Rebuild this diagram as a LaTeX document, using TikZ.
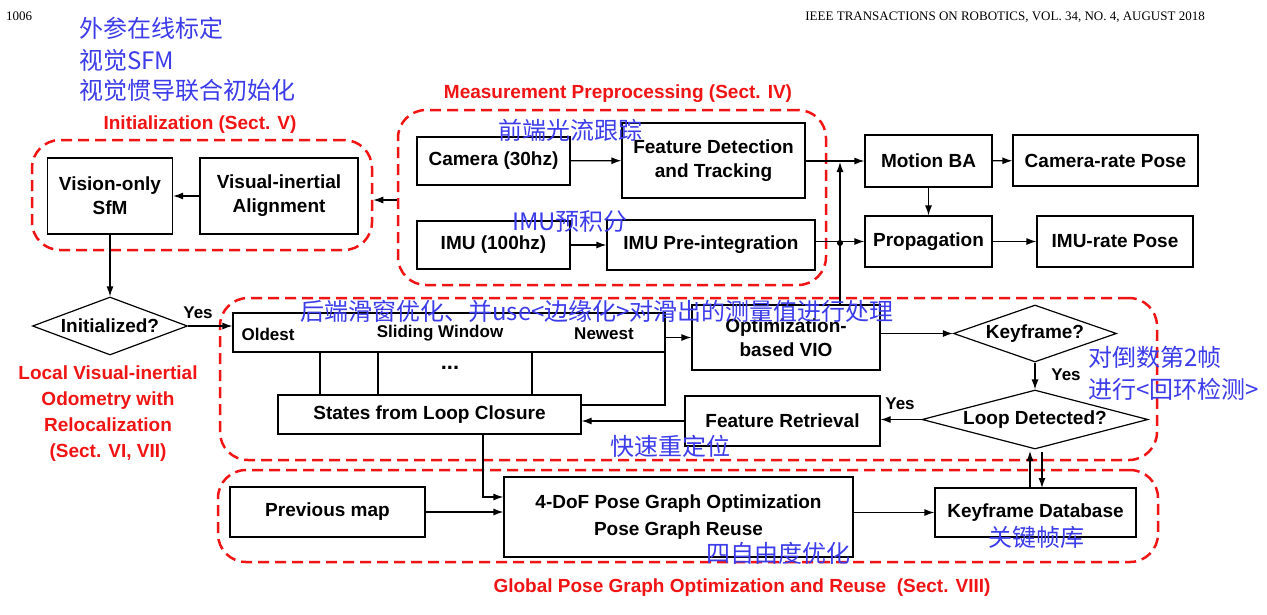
\documentclass[tikz,border=0pt]{standalone}
\usepackage{fontspec}
\setmainfont{Liberation Sans}
\newfontfamily\cjk{Noto Sans CJK SC}
\newfontfamily\tms{Liberation Serif}
\usetikzlibrary{shapes.geometric,arrows.meta}
\definecolor{annot}{RGB}{60,60,235}
\definecolor{reg}{RGB}{240,20,20}
\begin{document}
\begin{tikzpicture}[x=1pt,y=-1pt,
  box/.style={draw,line width=1.2pt,inner sep=0pt,align=center,font=\bfseries\fontsize{19}{24}\selectfont},
  dia/.style={diamond,draw,line width=1.2pt,inner sep=0pt,font=\bfseries\fontsize{19}{22}\selectfont},
  region/.style={draw=reg,line width=2.5pt,dash pattern=on 11pt off 6pt,rounded corners=28pt,inner sep=0pt},
  rlab/.style={text=reg,font=\bfseries\fontsize{19}{26}\selectfont,align=center},
  ann/.style={text=annot,font=\cjk\fontsize{24}{30}\selectfont,inner sep=0pt},
  arr/.style={-{Latex[length=10pt,width=7pt]},line width=1.2pt},
  ln/.style={line width=1.2pt},
  sm/.style={font=\bfseries\fontsize{17}{19}\selectfont,inner sep=0pt}]
\useasboundingbox (0,0) rectangle (1267,614);
\fill[white] (0,0) rectangle (1267,614);
% header
\node[font=\tms\fontsize{13}{15}\selectfont,anchor=west,inner sep=0pt] (pg) at (6,16) {1006};
\node[font=\tms\fontsize{13}{15}\selectfont,anchor=east,inner sep=0pt] (hd) at (1205,17) {IEEE TRANSACTIONS ON ROBOTICS, VOL. 34, NO. 4, AUGUST 2018};
% regions
\node[region,minimum width=340pt,minimum height=110pt] (rinit) at (202,195) {};
\node[region,minimum width=428pt,minimum height=175pt] (rmeas) at (612,197.5) {};
\node[region,minimum width=937pt,minimum height=162pt] (rvio) at (688.5,379) {};
\node[region,minimum width=940pt,minimum height=92pt] (rglob) at (688,516) {};
\node[rlab] (linit) at (200,125) {Initialization (Sect. V)};
\node[rlab] (lmeas) at (618,94) {Measurement Preprocessing (Sect. IV)};
\node[rlab] (lvio) at (108,414) {Local Visual-inertial\\Odometry with\\Relocalization\\(Sect. VI, VII)};
\node[rlab] (lglob) at (742,588) {Global Pose Graph Optimization and Reuse~ (Sect. VIII)};
% boxes
\node[box,minimum width=153pt,minimum height=48pt] (cam) at (493.5,161) {Camera (30hz)};
\node[box,minimum width=183pt,minimum height=75pt] (fdt) at (713.5,160.5) {Feature Detection\\and Tracking};
\node[box,minimum width=153pt,minimum height=48pt] (imu) at (493.5,245) {IMU (100hz)};
\node[box,minimum width=208pt,minimum height=50pt] (pre) at (711,245) {IMU Pre-integration};
\node[box,minimum width=127pt,minimum height=52pt] (mba) at (928.5,161) {Motion BA};
\node[box,minimum width=185pt,minimum height=51pt] (crp) at (1105.5,160.5) {Camera-rate Pose};
\node[box,minimum width=127pt,minimum height=51pt] (prop) at (928.5,241.5) {Propagation};
\node[box,minimum width=156pt,minimum height=51pt] (irp) at (1115,241.5) {IMU-rate Pose};
\node[box,minimum width=125pt,minimum height=76pt] (sfm) at (110,196) {Vision-only\\SfM};
\node[box,minimum width=158pt,minimum height=76pt] (via) at (279,196) {Visual-inertial\\Alignment};
\node[dia,minimum width=155pt,minimum height=58pt,aspect=2.67] (ini) at (110,326) {Initialized?};
\node[box,minimum width=432pt,minimum height=39pt] (sw) at (449,332.5) {};
\node[sm] (old) at (268,334) {Oldest};
\node[sm] (swt) at (440,333) {Sliding Window};
\node[sm] (new) at (604,334) {Newest};
\node[box,minimum width=303pt,minimum height=39pt] (slc) at (429.5,414.5) {States from Loop Closure};
\node[font=\bfseries\fontsize{22}{22}\selectfont,inner sep=0pt] (dots) at (450,368) {...};
\node[box,minimum width=188pt,minimum height=65pt] (vio) at (786,337.5) {Optimization-\\based VIO};
\node[dia,minimum width=163pt,minimum height=57pt,aspect=2.86] (kf) at (1035,333.5) {Keyframe?};
\node[dia,minimum width=226pt,minimum height=59pt,aspect=3.83] (ld) at (1035,419.5) {Loop Detected?};
\node[box,minimum width=195pt,minimum height=50pt] (fr) at (782.5,421) {Feature Retrieval};
\node[box,minimum width=195pt,minimum height=50pt] (pm) at (327.5,512) {Previous map};
\node[box,minimum width=349pt,minimum height=80pt,font=\bfseries\fontsize{19}{27}\selectfont] (pgo) at (678.5,517) {4-DoF Pose Graph Optimization\\Pose Graph Reuse};
\node[box,minimum width=201pt,minimum height=49pt] (kdb) at (1035.5,512.5) {Keyframe Database};
% connectors
\draw[arr] (cam) -- (fdt);
\draw[arr] (imu) -- (pre);
\draw[arr] (fdt.east |- mba.west) -- (mba.west);
\draw[arr] (pre.east |- prop.west) -- (prop.west);
\fill (840,243) circle (3pt);
\coordinate (vup) at (840,305);
\draw[arr] (vup) -- (840,162);
\draw[arr] (mba) -- (prop);
\draw[arr] (mba) -- (crp);
\draw[arr] (prop.east) -- (irp.west);
\draw[arr] (rmeas.west |- 0,200) -- (rinit.east |- 0,200);
\draw[arr] (via) -- (sfm);
\draw[arr] (sfm) -- (ini);
\draw[arr] (ini.east) -- (sw.west |- ini.east);
\node[sm] (y1) at (198,313) {Yes};
\draw[arr] (sw.east |- vio.west) -- (vio.west);
\draw[ln] (slc.east |- 0,405) -- (665,405) -- (665,337.5);
\foreach \xx in {320,378,532} \draw[ln] (\xx,352) -- (\xx,395);
\draw[arr] (vio.east |- kf.west) -- (kf.west);
\draw[arr] (kf.south) -- (ld.north);
\node[sm] (y2) at (1066,375) {Yes};
\draw[arr] (ld.west) -- (fr.east |- ld.west);
\node[sm] (y3) at (900,404) {Yes};
\draw[arr] (fr.west) -- (slc.east |- fr.west);
\draw[arr] (slc.south -| 483,0) -- (483,497) -- (pgo.west |- 0,497);
\draw[arr] (pm.east) -- (pgo.west |- pm.east);
\draw[arr] (pgo.east |- kdb.west) -- (kdb.west);
\draw[arr] (1030,488) -- (1030,451);
\draw[arr] (1042,452) -- (1042,488);
% annotations
\node[ann,anchor=west] (a1) at (79,28) {外参在线标定};
\node[ann,anchor=west] (a2) at (79,60) {视觉SFM};
\node[ann,anchor=west] (a3) at (79,90) {视觉惯导联合初始化};
\node[ann] (a4) at (570,130) {前端光流跟踪};
\node[ann] (a5) at (570,222) {IMU预积分};
\node[ann,anchor=west] (a6) at (300,311) {后端滑窗优化、并use<边缘化>对滑出的测量值进行处理};
\node[ann,anchor=west] (a7) at (1088,357) {对倒数第2帧};
\node[ann,anchor=west] (a8) at (1088,389) {进行<回环检测>};
\node[ann] (a9) at (670,446) {快速重定位};
\node[ann] (a10) at (778,553) {四自由度优化};
\node[ann] (a11) at (1036,537) {关键帧库};
\end{tikzpicture}
\end{document}
